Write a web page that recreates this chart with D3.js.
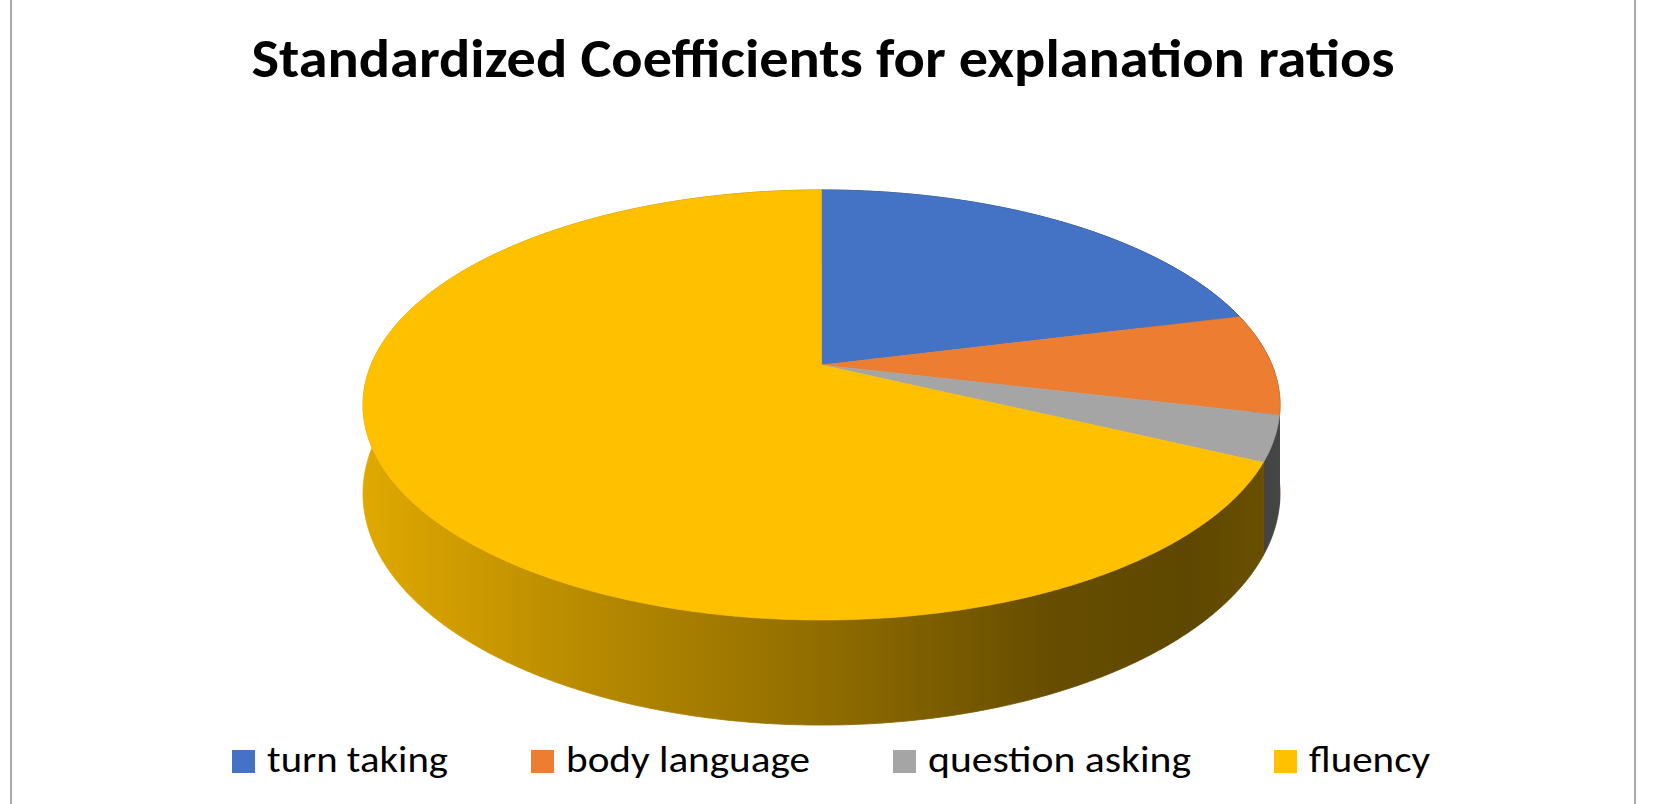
<!DOCTYPE html>
<html>
<head>
<meta charset="utf-8">
<script src="https://cdn.jsdelivr.net/npm/d3@7"></script>
<style>
  body { margin: 0; background: #fff; }
  svg { display: block; }
</style>
</head>
<body>
<svg id="drawing_region"></svg>
<script>
// chart data
const categories = ['turn taking', 'body language', 'question asking', 'fluency'];
const coefficients = [0.211, 0.076, 0.034, 0.679];
const colors = ['#4472C4', '#ED7D31', '#A5A5A5', '#FFC000'];
const title = 'Standardized Coefficients for explanation ratios';

const config = {
    width: 1663,
    height: 804,
    cx: 821.5,      // vertex of the pie on screen
    cy: 365,
    rx: 450.5,      // horizontal radius at the vertex depth
    ry: 207.6,      // vertical radius factor
    persp: -0.186,  // perspective factor
    depth: 85.5     // thickness of the pie
};

// legend label widths as drawn in the original (Calibri)
const legendTextWidths = [181, 244, 263, 121];

const svg = d3.select('#drawing_region')
    .attr('width', config.width)
    .attr('height', config.height);

// frame lines
svg.append('line')
    .attr('x1', 11).attr('x2', 11).attr('y1', 0).attr('y2', config.height)
    .attr('stroke', '#8c8c8c').attr('stroke-width', 1.5);
svg.append('line')
    .attr('x1', 1635).attr('x2', 1635).attr('y1', 0).attr('y2', config.height)
    .attr('stroke', '#8c8c8c').attr('stroke-width', 1.5);

// title
svg.append('text')
    .attr('x', 823)
    .attr('y', 77)
    .attr('text-anchor', 'middle')
    .attr('font-family', 'Carlito, Calibri, Lato, sans-serif')
    .attr('font-weight', 'bold')
    .attr('font-size', '55px')
    .attr('textLength', 1143)
    .attr('lengthAdjust', 'spacingAndGlyphs')
    .attr('fill', '#000')
    .text(title);

// pie angles
const pie = d3.pie().sort(null).value(d => d);
const arcs = pie(coefficients).map((a, i) => ({...a, name: categories[i], color: colors[i]}));

// project angle (clockwise from 12 o'clock) on the tilted disk, h=0 top, h=1 bottom
function project(theta, h) {
    const X = Math.sin(theta);
    const Z = -Math.cos(theta);
    const w = 1 + config.persp * Z;
    return [
        config.cx + config.rx * X / w,
        config.cy + config.ry * Z / w + h * config.depth / w
    ];
}

function rimAngles(a) {
    const n = Math.max(4, Math.ceil((a.endAngle - a.startAngle) / (Math.PI / 360)));
    return d3.range(n + 1).map(k => a.startAngle + (a.endAngle - a.startAngle) * k / n);
}

const line = d3.line();

// side shading gradients
const defs = svg.append('defs');
const shade = [[0, 0.88], [0.26, 0.71], [0.5, 0.57], [0.75, 0.40], [0.9, 0.37], [1, 0.42]];
arcs.forEach((a, i) => {
    const g = defs.append('linearGradient')
        .attr('id', 'side' + i)
        .attr('gradientUnits', 'userSpaceOnUse')
        .attr('x1', config.cx - config.rx * 1.02).attr('x2', config.cx + config.rx * 1.02)
        .attr('y1', 0).attr('y2', 0);
    const base = d3.rgb(a.color);
    shade.forEach(s => {
        g.append('stop')
            .attr('offset', s[0])
            .attr('stop-color', d3.rgb(base.r * s[1], base.g * s[1], base.b * s[1]).formatHex());
    });
});

const chart = svg.append('g');

// outer side walls, far ones first
const sides = arcs.slice().sort((p, q) => {
    const zp = -Math.cos((p.startAngle + p.endAngle) / 2);
    const zq = -Math.cos((q.startAngle + q.endAngle) / 2);
    return zp - zq;
});
chart.selectAll('path.side')
    .data(sides)
    .join('path')
    .attr('class', 'side')
    .attr('d', a => {
        const ang = rimAngles(a);
        const pts = ang.map(t => project(t, 0)).concat(ang.slice().reverse().map(t => project(t, 1)));
        return line(pts) + 'Z';
    })
    .attr('fill', a => `url(#side${a.index})`)
    .attr('stroke', a => `url(#side${a.index})`)
    .attr('stroke-width', 0.8);

// top faces
chart.selectAll('path.top')
    .data(arcs)
    .join('path')
    .attr('class', 'top')
    .attr('d', a => {
        const pts = [[config.cx, config.cy]].concat(rimAngles(a).map(t => project(t, 0)));
        return line(pts) + 'Z';
    })
    .attr('fill', a => a.color)
    .attr('stroke', a => a.color)
    .attr('stroke-width', 0.6);

// legend
const legend = svg.append('g')
    .attr('font-family', 'Carlito, Calibri, Lato, sans-serif')
    .attr('font-size', '36px');

const items = legend.selectAll('g')
    .data(arcs)
    .join('g');

items.append('rect')
    .attr('width', 23)
    .attr('height', 23)
    .attr('y', 750)
    .attr('fill', d => d.color);

items.append('text')
    .attr('x', 35)
    .attr('y', 772)
    .attr('fill', '#000')
    .attr('textLength', (d, i) => legendTextWidths[i])
    .attr('lengthAdjust', 'spacingAndGlyphs')
    .text(d => d.name);

const gap = 83;
let x0 = 232;
items.attr('transform', (d, i) => {
    const tx = x0;
    x0 += 35 + legendTextWidths[i] + gap;
    return `translate(${tx},0)`;
});
</script>
</body>
</html>
